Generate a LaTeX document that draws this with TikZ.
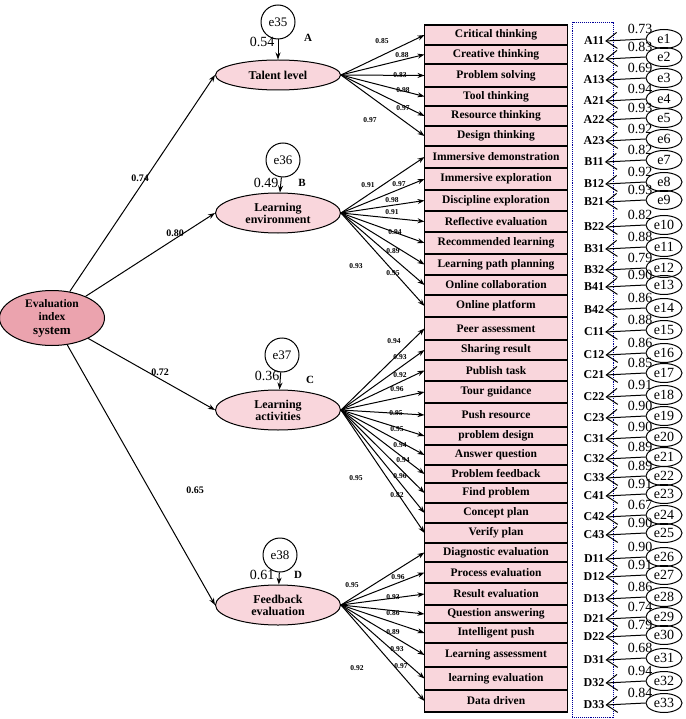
\documentclass[tikz,border=0pt]{standalone}
\usepackage{fontspec}
\setmainfont{Liberation Serif}
\usetikzlibrary{arrows.meta,shapes.geometric}
\definecolor{pk}{HTML}{F9D6DC}
\definecolor{dpk}{HTML}{EBA3AE}
\begin{document}
\begin{tikzpicture}[x=1pt,y=-1pt,
 box/.style={draw,fill=pk,line width=1.1pt,minimum width=143pt,inner sep=0pt,outer sep=0pt,font=\fontsize{11.5}{12}\selectfont\bfseries},
 lat/.style={ellipse,draw,fill=pk,line width=1pt,minimum width=125pt,align=center,font=\fontsize{12}{12}\selectfont\bfseries,inner sep=0pt},
 err/.style={ellipse,draw,line width=1pt,minimum width=36pt,minimum height=19pt,inner sep=0pt,font=\fontsize{14}{14}\selectfont},
 cerr/.style={circle,draw,line width=1pt,minimum size=34pt,inner sep=0pt,font=\fontsize{13}{13}\selectfont},
 arr/.style={-{Stealth[length=7pt,width=5pt]},line width=1pt},
 barb/.style={-{Straight Barb[length=11pt,width=16pt]},line width=1pt},
 sm/.style={font=\fontsize{7.5}{8}\selectfont\bfseries,inner sep=0pt},
 big/.style={font=\fontsize{10}{10}\selectfont\bfseries,inner sep=0pt},
 ld/.style={font=\fontsize{14}{14}\selectfont,inner sep=0pt}]
\useasboundingbox[fill=white] (0,0) rectangle (685,719);
% boxes
\foreach \ta/\tb/\txt [count=\i] in {25/45/Critical thinking,45/64/Creative thinking,64/87/Problem solving,87/106/Tool thinking,106/126/Resource thinking,126/146/Design thinking,146/168/Immersive demonstration,168/190/Immersive exploration,190/211/Discipline exploration,211/232/Reflective evaluation,232/254/Recommended learning,254/275/Learning path planning,275/295/Online collaboration,295/317/Online platform,317/340/Peer assessment,340/360/Sharing result,360/381/Publish task,381/403/Tour guidance,403/427/Push resource,427/445/problem design,445/465/Answer question,465/483/Problem feedback,483/503/Find problem,503/523/Concept plan,523/543/Verify plan,543/562/Diagnostic evaluation,562/583/Process evaluation,583/605/Result evaluation,605/623/Question answering,623/643/Intelligent push,643/667/Learning assessment,667/690/learning evaluation,690/712/Data driven}{
 \pgfmathsetmacro\h{\tb-\ta}\pgfmathsetmacro\c{(\ta+\tb)/2}
 \node[box,minimum height=\h pt] (b\i) at (496,\c) {\txt};
}
\draw[blue!60!black,densely dotted,line width=0.9pt] (572,22) rectangle (613,717);
% latent
\node[ellipse,draw,fill=dpk,line width=1pt,minimum width=105pt,minimum height=55pt,align=center,inner sep=0pt,font=\fontsize{11.5}{13}\selectfont\bfseries] (E) at (52,318) {Evaluation\\index\\[1pt]{\fontsize{13}{13}\selectfont system}};
\node[lat,minimum height=30pt] (A) at (278,75) {Talent level};
\node[lat,minimum height=40pt] (B) at (278,213) {Learning\\environment};
\node[lat,minimum height=40pt] (C) at (278,410) {Learning\\activities};
\node[lat,minimum height=40pt] (D) at (278,605) {Feedback\\evaluation};
\foreach \n in {A,B,C,D} \draw[arr] (E) -- (\n.west);
\node[big] at (140,178) {0.74};
\node[big] at (175,233) {0.80};
\node[big] at (160,372) {0.72};
\node[big] at (195,490) {0.65};
% residual circles
\node[cerr] (e35) at (278,22) {e35}; \draw[arr] (e35) -- (A);
\node[cerr] (e36) at (283,160) {e36}; \draw[arr] (e36) -- (B);
\node[cerr] (e37) at (282,355) {e37}; \draw[arr] (e37) -- (C);
\node[cerr] (e38) at (280,555) {e38}; \draw[arr] (e38) -- (D);
\node[ld] at (262,42) {0.54}; \node[big,font=\fontsize{11}{11}\selectfont\bfseries] at (308,38) {A};
\node[ld] at (266,183) {0.49}; \node[big,font=\fontsize{11}{11}\selectfont\bfseries] at (302,183) {B};
\node[ld] at (267,376) {0.36}; \node[big,font=\fontsize{11}{11}\selectfont\bfseries] at (310,380) {C};
\node[ld] at (262,575) {0.61}; \node[big,font=\fontsize{11}{11}\selectfont\bfseries] at (298,575) {D};
% latent -> indicator arrows
\foreach \i in {1,...,6} \draw[arr] (A.east) -- (b\i.west);
\foreach \i in {7,...,14} \draw[arr] (B.east) -- (b\i.west);
\foreach \i in {15,...,25} \draw[arr] (C.east) -- (b\i.west);
\foreach \i in {26,...,33} \draw[arr] (D.east) -- (b\i.west);
% small loadings
\foreach \x/\y/\v in {382/41/0.85,402/55/0.88,400/75/0.83,403/90/0.98,403/108/0.97,370/120/0.97,
 368/185/0.91,399/184/0.97,392/200/0.98,392/212/0.91,395/232/0.94,393/251/0.89,393/273/0.95,356/266/0.93,
 394/341/0.94,400/357/0.93,400/375/0.92,397/389/0.96,396/413/0.95,397/429/0.95,400/445/0.94,403/460/0.94,400/476/0.96,397/495/0.82,356/478/0.95,
 352/585/0.95,398/577/0.96,393/597/0.93,393/613/0.86,393/632/0.89,397/649/0.93,401/666/0.97,357/668/0.92}
 \node[sm] at (\x,\y) {\v};
% indicator labels and errors
\foreach \lab/\ly/\v [count=\i] in {A11/41/.73,A12/59/.83,A13/80/.69,A21/101/.94,A22/120/.93,A23/141/.92,B11/162/.82,B12/184/.92,B21/202/.93,B22/227/.82,B31/249/.88,B32/270/.79,B41/287/.90,B42/310/.86,C11/332/.88,C12/355/.86,C21/375/.85,C22/397/.91,C23/418/.90,C31/439/.90,C32/459/.89,C33/478/.89,C41/496/.91,C42/517/.67,C43/535/.90,D11/559/.90,D12/577/.91,D13/599/.86,D21/619/.74,D22/637/.79,D31/660/.68,D32/683/.94,D33/705/.84}{
 \node[font=\fontsize{12}{12}\selectfont\bfseries,inner sep=1pt] (L\i) at (594,\ly) {\lab};
 \node[err] (e\i) at (664,\ly-2) {e\i};
 \draw[barb] (e\i.west) -- (L\i.east);
 \node[ld] at (640,\ly-12) {0\v};
}
\end{tikzpicture}
\end{document}
